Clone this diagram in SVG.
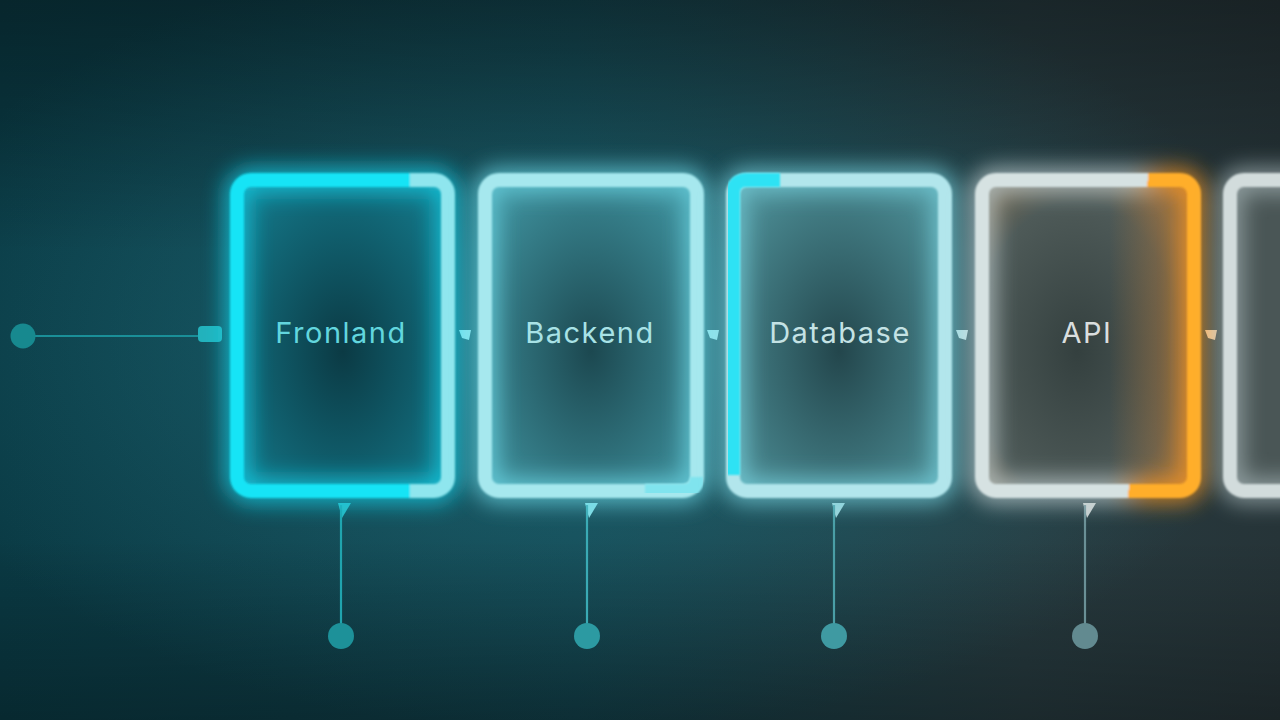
<svg xmlns="http://www.w3.org/2000/svg" width="1280" height="720" viewBox="0 0 1280 720">
<defs>
  <linearGradient id="bg" x1="0" y1="0" x2="1" y2="0">
    <stop offset="0" stop-color="#0a3a44"/>
    <stop offset="0.45" stop-color="#12404a"/>
    <stop offset="0.8" stop-color="#273b40"/>
    <stop offset="1" stop-color="#263438"/>
  </linearGradient>
  <linearGradient id="bgv" x1="0" y1="0" x2="0" y2="1">
    <stop offset="0" stop-color="#000" stop-opacity="0.35"/>
    <stop offset="0.35" stop-color="#000" stop-opacity="0"/>
    <stop offset="0.75" stop-color="#000" stop-opacity="0"/>
    <stop offset="1" stop-color="#000" stop-opacity="0.3"/>
  </linearGradient>
  <radialGradient id="halo" cx="0.45" cy="0.47" r="0.55">
    <stop offset="0" stop-color="#2a8fa0" stop-opacity="0.5"/>
    <stop offset="1" stop-color="#2a8fa0" stop-opacity="0"/>
  </radialGradient>
  <radialGradient id="inC" cx="0.5" cy="0.55" r="0.6">
    <stop offset="0" stop-color="#0b3a44"/>
    <stop offset="1" stop-color="#137384"/>
  </radialGradient>
  <radialGradient id="inB" cx="0.5" cy="0.55" r="0.6">
    <stop offset="0" stop-color="#1c4850"/>
    <stop offset="1" stop-color="#3c8c98"/>
  </radialGradient>
  <radialGradient id="inD" cx="0.5" cy="0.55" r="0.6">
    <stop offset="0" stop-color="#23464c"/>
    <stop offset="1" stop-color="#4a8a92"/>
  </radialGradient>
  <radialGradient id="inA" cx="0.45" cy="0.55" r="0.6">
    <stop offset="0" stop-color="#34403f"/>
    <stop offset="0.8" stop-color="#4e5a58"/>
    <stop offset="1" stop-color="#6a6656"/>
  </radialGradient>
  <linearGradient id="inAo" x1="0" y1="0" x2="1" y2="0">
    <stop offset="0.6" stop-color="#c87828" stop-opacity="0"/>
    <stop offset="1" stop-color="#c87828" stop-opacity="0.55"/>
  </linearGradient>
  <linearGradient id="s1" gradientUnits="userSpaceOnUse" x1="230" y1="0" x2="455" y2="0">
    <stop offset="0.8" stop-color="#14e4f6"/>
    <stop offset="0.8" stop-color="#8fe6ee"/>
  </linearGradient>
  <linearGradient id="s4" gradientUnits="userSpaceOnUse" x1="1105.5" y1="333.5" x2="1170.5" y2="337.5">
    <stop offset="0.5" stop-color="#d6e2e2"/>
    <stop offset="0.5" stop-color="#ffae2c"/>
  </linearGradient>
  <linearGradient id="g4" gradientUnits="userSpaceOnUse" x1="1105.5" y1="333.5" x2="1170.5" y2="337.5">
    <stop offset="0.3" stop-color="#c8d6d8"/>
    <stop offset="0.7" stop-color="#ff9a20"/>
  </linearGradient>
  <filter id="glow" x="-30%" y="-30%" width="160%" height="160%">
    <feGaussianBlur stdDeviation="11"/>
  </filter>
  <filter id="soft" x="-10%" y="-10%" width="120%" height="120%">
    <feGaussianBlur stdDeviation="0.8"/>
  </filter>
  <style>
    .frame{fill:none;stroke-width:14}
    .gl{fill:none;stroke-width:24;opacity:0.75}
    .lbl{font-family:Inter,"DejaVu Sans",sans-serif;font-size:29px;letter-spacing:1.5px;text-anchor:middle;dominant-baseline:central}
    .wire{stroke-width:2.2;fill:none}
  </style>
</defs>

<rect width="1280" height="720" fill="url(#bg)"/>
<rect width="1280" height="720" fill="url(#halo)"/>
<rect width="1280" height="720" fill="url(#bgv)"/>

<g id="connectors">
  <line class="wire" x1="23" y1="336" x2="205" y2="336" stroke="#1a8f98"/>
  <circle cx="23" cy="336" r="12.5" fill="#17898f"/>
  <rect x="198" y="326" width="24" height="16" rx="4" fill="#23b2bc"/>
  <path d="M459 330 L471 330 L469 340 L462 338 Z" fill="#9ee8ee"/>
  <path d="M707 330 L719 330 L717 340 L710 338 Z" fill="#9ee8ee"/>
  <path d="M956 330 L968 330 L966 340 L959 338 Z" fill="#bfe2e4"/>
  <path d="M1205 330 L1217 330 L1215 340 L1208 338 Z" fill="#f0d0a8"/>

  <path d="M338 503 L351 503 L342 518 Z" fill="#2ab6c0"/>
  <line class="wire" x1="341" y1="505" x2="341" y2="626" stroke="#20a4ae"/>
  <circle cx="341" cy="636" r="13" fill="#1d9199"/>

  <path d="M585 503 L598 503 L589 518 Z" fill="#7fdce4"/>
  <line class="wire" x1="587" y1="505" x2="587" y2="626" stroke="#3aaab4"/>
  <circle cx="587" cy="636" r="13" fill="#2c9aa2"/>

  <path d="M832 503 L845 503 L836 518 Z" fill="#9cd4da"/>
  <line class="wire" x1="834" y1="505" x2="834" y2="626" stroke="#4a9ea6"/>
  <circle cx="834" cy="636" r="13" fill="#3f9aa2"/>

  <path d="M1083 503 L1096 503 L1087 518 Z" fill="#c6cfcf"/>
  <line class="wire" x1="1085" y1="505" x2="1085" y2="626" stroke="#6a9096"/>
  <circle cx="1085" cy="636" r="13" fill="#628a90"/>
</g>

<g id="node-frontend">
  <rect x="237" y="180" width="211" height="311" rx="14" fill="url(#inC)"/>
  <rect class="gl" x="237" y="180" width="211" height="311" rx="14" stroke="#12d8f0" filter="url(#glow)"/>
  <rect class="frame" x="237" y="180" width="211" height="311" rx="14" stroke="url(#s1)" filter="url(#soft)"/>
  <text class="lbl" x="341" y="332" fill="#62d6de">Fronland</text>
</g>

<g id="node-backend">
  <rect x="485" y="180" width="212" height="311" rx="14" fill="url(#inB)"/>
  <rect class="gl" x="485" y="180" width="212" height="311" rx="14" stroke="#70dcea" filter="url(#glow)"/>
  <rect class="frame" x="485" y="180" width="212" height="311" rx="14" stroke="#a6e8ee" filter="url(#soft)"/>
  <path d="M645 491 L683 491 Q697 491 697 477" fill="none" stroke="#80e4ee" stroke-width="14" filter="url(#soft)"/>
  <text class="lbl" x="590" y="332" fill="#a8e2e6">Backend</text>
</g>

<g id="node-database">
  <rect x="733" y="180" width="212" height="311" rx="14" fill="url(#inD)"/>
  <rect class="gl" x="733" y="180" width="212" height="311" rx="14" stroke="#7ad6e2" filter="url(#glow)"/>
  <rect class="frame" x="733" y="180" width="212" height="311" rx="14" stroke="#b2e6ec" filter="url(#soft)"/>
  <path d="M780 180 L747 180 Q733 180 733 194 L733 475" fill="none" stroke="#2ee2f4" stroke-width="14" filter="url(#soft)"/>
  <text class="lbl" x="840" y="332" fill="#c4e2e4">Database</text>
</g>

<g id="node-api">
  <rect x="982" y="180" width="212" height="311" rx="14" fill="url(#inA)"/>
  <rect x="982" y="180" width="212" height="311" rx="14" fill="url(#inAo)"/>
  <rect class="gl" x="982" y="180" width="212" height="311" rx="14" stroke="url(#g4)" filter="url(#glow)"/>
  <rect class="frame" x="982" y="180" width="212" height="311" rx="14" stroke="url(#s4)" filter="url(#soft)"/>
  <text class="lbl" x="1087" y="332" fill="#dadede">API</text>
</g>

<g id="node-next">
  <rect x="1230" y="180" width="212" height="311" rx="14" fill="#4a5656"/>
  <rect class="gl" x="1230" y="180" width="212" height="311" rx="14" stroke="#a8b8ba" filter="url(#glow)" opacity="0.5"/>
  <rect class="frame" x="1230" y="180" width="212" height="311" rx="14" stroke="#d2dcdc" filter="url(#soft)"/>
</g>
</svg>
